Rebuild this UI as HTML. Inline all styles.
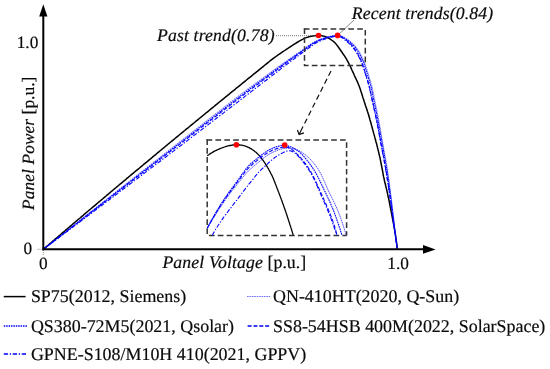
<!DOCTYPE html>
<html><head><meta charset="utf-8">
<style>
html,body{margin:0;padding:0;background:#fff;}
svg{display:block;}
text{text-rendering:geometricPrecision;font-family:"Liberation Serif","Times New Roman",serif;font-size:17.93px;fill:#0a0a0a;stroke:#0a0a0a;stroke-width:0.18px;}
.it{font-style:italic;font-size:17.7px;letter-spacing:0.15px;}
.ax{font-size:17.85px;}
.nm{font-size:17.3px;}
</style></head>
<body>
<svg width="550" height="369" viewBox="0 0 550 369">
<rect width="550" height="369" fill="#fff"/>

<!-- main curves -->
<path d="M43.3 249.3 L44.9 247.9 L46.5 246.6 L48.1 245.2 L49.7 243.8 L51.3 242.5 L52.9 241.1 L54.5 239.7 L56.1 238.4 L57.7 237.0 L59.3 235.7 L60.9 234.3 L62.4 232.9 L64.0 231.6 L65.6 230.2 L67.2 228.9 L68.8 227.5 L70.4 226.1 L72.0 224.8 L73.6 223.4 L75.2 222.0 L76.8 220.7 L78.4 219.3 L80.0 218.0 L81.6 216.6 L83.2 215.3 L84.8 213.9 L86.4 212.5 L88.0 211.2 L89.6 209.8 L91.2 208.5 L92.8 207.1 L94.4 205.8 L96.1 204.4 L97.7 203.0 L99.3 201.7 L100.9 200.3 L102.5 199.0 L104.1 197.6 L105.7 196.3 L107.3 194.9 L108.9 193.6 L110.5 192.2 L112.1 190.9 L113.7 189.5 L115.3 188.2 L116.9 186.8 L118.5 185.5 L120.1 184.1 L121.7 182.8 L123.4 181.4 L125.0 180.1 L126.6 178.7 L128.2 177.4 L129.8 176.0 L131.4 174.7 L133.0 173.4 L134.6 172.0 L136.2 170.7 L137.9 169.3 L139.5 168.0 L141.1 166.6 L142.7 165.3 L144.3 163.9 L145.9 162.6 L147.5 161.3 L149.2 159.9 L150.8 158.6 L152.4 157.2 L154.0 155.9 L155.6 154.6 L157.2 153.2 L158.8 151.9 L160.5 150.5 L162.1 149.2 L163.7 147.8 L165.3 146.5 L166.9 145.2 L168.5 143.8 L170.1 142.5 L171.8 141.1 L173.4 139.8 L175.0 138.5 L176.6 137.1 L178.2 135.8 L179.8 134.5 L181.5 133.1 L183.1 131.8 L184.7 130.5 L186.3 129.1 L188.0 127.8 L189.6 126.5 L191.2 125.1 L192.8 123.8 L194.5 122.5 L196.1 121.1 L197.7 119.8 L199.3 118.5 L201.0 117.2 L202.6 115.8 L204.2 114.5 L205.8 113.2 L207.5 111.9 L209.1 110.5 L210.7 109.2 L212.3 107.9 L214.0 106.5 L215.6 105.2 L217.2 103.9 L218.8 102.5 L220.5 101.2 L222.1 99.9 L223.7 98.6 L225.3 97.2 L227.0 95.9 L228.6 94.6 L230.2 93.2 L231.8 91.9 L233.5 90.6 L235.1 89.3 L236.7 87.9 L238.4 86.6 L240.0 85.3 L241.6 84.0 L243.2 82.7 L244.9 81.3 L246.5 80.0 L248.1 78.7 L249.8 77.4 L251.4 76.1 L253.0 74.7 L254.7 73.4 L256.3 72.1 L257.9 70.8 L259.6 69.4 L261.2 68.1 L262.8 66.8 L264.4 65.5 L266.1 64.1 L267.7 62.8 L269.3 61.5 L271.0 60.2 L272.7 58.9 L274.3 57.7 L276.0 56.5 L277.8 55.2 L279.5 54.0 L281.2 52.9 L282.9 51.7 L284.7 50.5 L286.4 49.3 L288.2 48.2 L289.9 47.0 L291.7 45.9 L293.5 44.7 L295.2 43.6 L297.0 42.5 L298.8 41.4 L300.6 40.3 L302.5 39.3 L304.3 38.4 L306.3 37.6 L308.3 37.0 L310.3 36.4 L312.4 36.0 L314.5 35.7 L316.6 35.4 L318.7 35.4 L320.8 35.6 L322.8 35.9 L324.9 36.5 L326.8 37.3 L328.7 38.2 L330.5 39.3 L332.2 40.5 L333.9 41.8 L335.4 43.3 L336.7 44.9 L338.0 46.5 L339.2 48.3 L340.4 50.0 L341.6 51.7 L342.8 53.5 L344.0 55.2 L345.1 56.9 L346.2 58.7 L347.3 60.6 L348.3 62.4 L349.2 64.3 L350.2 66.2 L351.1 68.1 L351.9 70.0 L352.8 71.9 L353.7 73.8 L354.5 75.7 L355.4 77.6 L356.3 79.5 L357.2 81.4 L358.0 83.3 L358.8 85.3 L359.6 87.2 L360.3 89.2 L360.9 91.2 L361.6 93.2 L362.2 95.2 L362.8 97.2 L363.5 99.2 L364.1 101.2 L364.8 103.2 L365.4 105.2 L366.1 107.2 L366.8 109.2 L367.4 111.2 L368.1 113.2 L368.7 115.2 L369.3 117.2 L369.8 119.2 L370.4 121.2 L371.0 123.3 L371.5 125.3 L372.1 127.3 L372.6 129.3 L373.2 131.4 L373.7 133.4 L374.3 135.4 L374.8 137.4 L375.4 139.5 L375.9 141.5 L376.5 143.5 L377.0 145.6 L377.5 147.6 L378.0 149.6 L378.5 151.7 L379.0 153.7 L379.5 155.8 L380.0 157.8 L380.4 159.9 L380.8 161.9 L381.2 164.0 L381.6 166.0 L382.0 168.1 L382.4 170.2 L382.8 172.2 L383.1 174.3 L383.5 176.4 L384.0 178.4 L384.4 180.5 L384.9 182.5 L385.4 184.5 L385.9 186.6 L386.4 188.6 L386.9 190.7 L387.3 192.7 L387.8 194.8 L388.2 196.8 L388.7 198.9 L389.1 200.9 L389.5 203.0 L389.9 205.0 L390.3 207.1 L390.7 209.2 L391.1 211.2 L391.5 213.3 L391.9 215.3 L392.3 217.4 L392.7 219.5 L393.1 221.5 L393.5 223.6 L393.9 225.7 L394.2 227.7 L394.6 229.8 L394.9 231.9 L395.3 233.9 L395.6 236.0 L395.9 238.1 L396.2 240.2 L396.5 242.2 L396.8 244.3 L397.0 246.4 L397.2 248.5" fill="none" stroke="#000" stroke-width="1.5" stroke-linejoin="round"/>
<g fill="none" stroke="#0000ff" stroke-width="1.1" stroke-linejoin="round">
<path d="M43.3 249.3 L44.8 248.1 L46.2 247.0 L47.7 245.8 L49.1 244.7 L50.6 243.5 L52.1 242.3 L53.5 241.2 L55.0 240.0 L56.5 238.9 L57.9 237.7 L59.4 236.6 L60.8 235.4 L62.3 234.2 L63.8 233.1 L65.2 231.9 L66.7 230.8 L68.1 229.6 L69.6 228.4 L71.1 227.3 L72.5 226.1 L74.0 225.0 L75.5 223.8 L76.9 222.7 L78.4 221.5 L79.8 220.3 L81.3 219.2 L82.8 218.0 L84.2 216.9 L85.7 215.7 L87.1 214.6 L88.6 213.4 L90.1 212.2 L91.5 211.1 L93.0 209.9 L94.5 208.8 L95.9 207.6 L97.4 206.5 L98.9 205.3 L100.3 204.1 L101.8 203.0 L103.2 201.8 L104.7 200.7 L106.2 199.5 L107.6 198.4 L109.1 197.2 L110.6 196.1 L112.0 194.9 L113.5 193.7 L115.0 192.6 L116.4 191.4 L117.9 190.3 L119.3 189.1 L120.8 188.0 L122.3 186.8 L123.7 185.7 L125.2 184.5 L126.7 183.4 L128.1 182.2 L129.6 181.1 L131.1 179.9 L132.5 178.7 L134.0 177.6 L135.5 176.4 L136.9 175.3 L138.4 174.1 L139.9 173.0 L141.3 171.8 L142.8 170.7 L144.3 169.5 L145.7 168.4 L147.2 167.2 L148.7 166.1 L150.1 164.9 L151.6 163.8 L153.1 162.6 L154.5 161.5 L156.0 160.3 L157.5 159.2 L158.9 158.0 L160.4 156.9 L161.9 155.7 L163.3 154.6 L164.8 153.4 L166.3 152.3 L167.8 151.1 L169.2 150.0 L170.7 148.8 L172.2 147.7 L173.6 146.5 L175.1 145.4 L176.6 144.2 L178.0 143.1 L179.5 141.9 L181.0 140.8 L182.4 139.6 L183.9 138.5 L185.4 137.3 L186.9 136.2 L188.3 135.0 L189.8 133.9 L191.3 132.7 L192.7 131.6 L194.2 130.4 L195.7 129.3 L197.1 128.1 L198.6 127.0 L200.1 125.8 L201.5 124.7 L203.0 123.5 L204.5 122.4 L205.9 121.2 L207.4 120.1 L208.9 118.9 L210.3 117.8 L211.8 116.6 L213.3 115.5 L214.7 114.4 L216.2 113.2 L217.7 112.1 L219.2 110.9 L220.6 109.8 L222.1 108.6 L223.6 107.5 L225.0 106.3 L226.5 105.2 L228.0 104.0 L229.5 102.9 L230.9 101.8 L232.4 100.6 L233.9 99.5 L235.4 98.3 L236.9 97.2 L238.3 96.1 L239.8 94.9 L241.3 93.8 L242.8 92.7 L244.3 91.6 L245.8 90.4 L247.2 89.3 L248.7 88.2 L250.2 87.1 L251.7 86.0 L253.2 84.9 L254.7 83.8 L256.2 82.7 L257.7 81.6 L259.3 80.5 L260.8 79.4 L262.3 78.3 L263.8 77.2 L265.3 76.1 L266.8 75.0 L268.3 73.9 L269.8 72.8 L271.3 71.7 L272.8 70.6 L274.4 69.5 L275.9 68.4 L277.4 67.3 L278.9 66.3 L280.4 65.2 L281.9 64.1 L283.5 63.0 L285.0 61.9 L286.5 60.9 L288.0 59.8 L289.6 58.7 L291.1 57.7 L292.6 56.6 L294.2 55.5 L295.7 54.5 L297.2 53.4 L298.8 52.4 L300.3 51.3 L301.9 50.3 L303.4 49.2 L304.9 48.1 L306.4 47.0 L307.9 45.9 L309.4 44.8 L311.0 43.8 L312.6 42.8 L314.2 41.9 L315.9 41.1 L317.6 40.3 L319.3 39.6 L321.0 38.9 L322.8 38.3 L324.6 37.7 L326.3 37.1 L328.2 36.7 L330.0 36.4 L331.8 36.1 L333.7 35.7 L335.5 35.4 L337.4 35.3 L339.2 35.5 L341.0 36.0 L342.8 36.6 L344.5 37.5 L346.1 38.4 L347.7 39.4 L349.3 40.5 L350.7 41.6 L352.1 42.8 L353.5 44.1 L354.8 45.5 L356.0 46.9 L357.1 48.4 L358.2 49.9 L359.2 51.5 L360.1 53.1 L361.0 54.8 L361.9 56.4 L362.7 58.1 L363.4 59.8 L364.2 61.5 L364.8 63.3 L365.5 65.0 L366.1 66.8 L366.7 68.6 L367.2 70.3 L367.8 72.1 L368.3 73.9 L368.8 75.7 L369.4 77.5 L369.9 79.3 L370.5 81.0 L371.0 82.8 L371.5 84.6 L372.0 86.4 L372.4 88.3 L372.8 90.1 L373.2 91.9 L373.5 93.7 L373.9 95.6 L374.2 97.4 L374.6 99.2 L374.9 101.1 L375.3 102.9 L375.7 104.7 L376.1 106.5 L376.4 108.4 L376.8 110.2 L377.2 112.0 L377.6 113.8 L377.9 115.7 L378.3 117.5 L378.6 119.3 L379.0 121.2 L379.3 123.0 L379.6 124.8 L380.0 126.7 L380.3 128.5 L380.6 130.3 L380.9 132.2 L381.2 134.0 L381.5 135.9 L381.9 137.7 L382.2 139.5 L382.5 141.4 L382.8 143.2 L383.1 145.0 L383.5 146.9 L383.8 148.7 L384.1 150.6 L384.5 152.4 L384.8 154.2 L385.1 156.1 L385.5 157.9 L385.8 159.7 L386.1 161.6 L386.4 163.4 L386.8 165.2 L387.1 167.1 L387.3 168.9 L387.6 170.8 L387.9 172.6 L388.2 174.5 L388.4 176.3 L388.7 178.1 L389.0 180.0 L389.2 181.8 L389.4 183.7 L389.7 185.5 L389.9 187.4 L390.2 189.2 L390.4 191.1 L390.6 192.9 L390.9 194.8 L391.1 196.6 L391.3 198.5 L391.6 200.3 L391.8 202.2 L392.0 204.0 L392.2 205.9 L392.5 207.7 L392.7 209.6 L392.9 211.5 L393.1 213.3 L393.3 215.2 L393.5 217.0 L393.8 218.9 L394.0 220.7 L394.2 222.6 L394.4 224.4 L394.6 226.3 L394.8 228.1 L395.0 230.0 L395.3 231.8 L395.5 233.7 L395.7 235.5 L395.9 237.4 L396.1 239.2 L396.3 241.1 L396.5 242.9 L396.8 244.8 L397.0 246.6 L397.2 248.5" stroke-width="0.7" stroke-dasharray="1.6 0.8" stroke="#3030ff"/>
<path d="M43.3 249.3 L44.8 248.2 L46.2 247.0 L47.7 245.9 L49.2 244.7 L50.6 243.6 L52.1 242.4 L53.6 241.3 L55.0 240.1 L56.5 239.0 L58.0 237.8 L59.4 236.7 L60.9 235.6 L62.4 234.4 L63.8 233.3 L65.3 232.1 L66.8 231.0 L68.2 229.8 L69.7 228.7 L71.2 227.5 L72.6 226.4 L74.1 225.2 L75.6 224.1 L77.0 223.0 L78.5 221.8 L80.0 220.7 L81.4 219.5 L82.9 218.4 L84.4 217.2 L85.8 216.1 L87.3 214.9 L88.8 213.8 L90.2 212.6 L91.7 211.5 L93.2 210.4 L94.6 209.2 L96.1 208.1 L97.6 206.9 L99.0 205.8 L100.5 204.6 L102.0 203.5 L103.4 202.3 L104.9 201.2 L106.4 200.1 L107.8 198.9 L109.3 197.8 L110.8 196.6 L112.2 195.5 L113.7 194.3 L115.2 193.2 L116.6 192.0 L118.1 190.9 L119.6 189.8 L121.1 188.6 L122.5 187.5 L124.0 186.3 L125.5 185.2 L126.9 184.0 L128.4 182.9 L129.9 181.8 L131.3 180.6 L132.8 179.5 L134.3 178.3 L135.7 177.2 L137.2 176.0 L138.7 174.9 L140.1 173.8 L141.6 172.6 L143.1 171.5 L144.6 170.3 L146.0 169.2 L147.5 168.0 L149.0 166.9 L150.4 165.8 L151.9 164.6 L153.4 163.5 L154.8 162.3 L156.3 161.2 L157.8 160.1 L159.2 158.9 L160.7 157.8 L162.2 156.6 L163.7 155.5 L165.1 154.3 L166.6 153.2 L168.1 152.1 L169.5 150.9 L171.0 149.8 L172.5 148.6 L174.0 147.5 L175.4 146.4 L176.9 145.2 L178.4 144.1 L179.8 142.9 L181.3 141.8 L182.8 140.7 L184.2 139.5 L185.7 138.4 L187.2 137.2 L188.7 136.1 L190.1 135.0 L191.6 133.8 L193.1 132.7 L194.5 131.5 L196.0 130.4 L197.5 129.2 L198.9 128.1 L200.4 127.0 L201.9 125.8 L203.3 124.7 L204.8 123.5 L206.3 122.4 L207.8 121.2 L209.2 120.1 L210.7 119.0 L212.2 117.8 L213.6 116.7 L215.1 115.5 L216.6 114.4 L218.0 113.2 L219.5 112.1 L221.0 111.0 L222.4 109.8 L223.9 108.7 L225.4 107.5 L226.9 106.4 L228.3 105.3 L229.8 104.1 L231.3 103.0 L232.8 101.9 L234.2 100.7 L235.7 99.6 L237.2 98.5 L238.7 97.3 L240.1 96.2 L241.6 95.1 L243.1 93.9 L244.6 92.8 L246.1 91.7 L247.5 90.6 L249.0 89.4 L250.5 88.3 L252.0 87.2 L253.5 86.1 L255.0 85.0 L256.5 83.9 L258.0 82.8 L259.5 81.7 L261.0 80.6 L262.5 79.5 L264.0 78.4 L265.5 77.2 L267.0 76.1 L268.5 75.0 L270.0 73.9 L271.5 72.8 L273.0 71.7 L274.5 70.6 L276.0 69.5 L277.5 68.4 L279.0 67.3 L280.5 66.3 L282.0 65.2 L283.5 64.1 L285.0 63.0 L286.5 61.9 L288.0 60.8 L289.5 59.7 L291.1 58.6 L292.6 57.6 L294.1 56.5 L295.6 55.4 L297.1 54.3 L298.7 53.3 L300.2 52.2 L301.7 51.1 L303.2 50.0 L304.7 49.0 L306.2 47.9 L307.7 46.8 L309.2 45.7 L310.8 44.6 L312.4 43.6 L314.0 42.7 L315.6 41.8 L317.3 41.0 L319.0 40.2 L320.7 39.5 L322.4 38.8 L324.2 38.2 L326.0 37.6 L327.7 37.2 L329.6 36.7 L331.4 36.4 L333.2 36.0 L335.1 35.7 L336.9 35.5 L338.7 35.6 L340.5 36.1 L342.3 36.8 L343.9 37.8 L345.6 38.8 L347.1 39.8 L348.6 40.9 L350.1 42.1 L351.4 43.3 L352.8 44.6 L354.0 46.0 L355.2 47.4 L356.3 48.9 L357.4 50.5 L358.4 52.0 L359.3 53.7 L360.2 55.3 L361.0 56.9 L361.8 58.6 L362.6 60.3 L363.3 62.0 L364.0 63.8 L364.6 65.5 L365.2 67.3 L365.8 69.1 L366.3 70.8 L366.9 72.6 L367.4 74.4 L368.0 76.2 L368.5 78.0 L369.0 79.7 L369.6 81.5 L370.1 83.3 L370.6 85.1 L371.1 86.9 L371.5 88.7 L371.9 90.5 L372.3 92.4 L372.6 94.2 L373.0 96.0 L373.4 97.8 L373.7 99.7 L374.1 101.5 L374.5 103.3 L374.9 105.1 L375.3 107.0 L375.6 108.8 L376.0 110.6 L376.4 112.4 L376.8 114.2 L377.2 116.1 L377.5 117.9 L377.9 119.7 L378.2 121.5 L378.6 123.4 L378.9 125.2 L379.2 127.0 L379.6 128.9 L379.9 130.7 L380.2 132.5 L380.5 134.4 L380.9 136.2 L381.2 138.0 L381.5 139.9 L381.8 141.7 L382.2 143.5 L382.5 145.4 L382.8 147.2 L383.2 149.0 L383.5 150.8 L383.8 152.7 L384.2 154.5 L384.5 156.3 L384.8 158.2 L385.2 160.0 L385.5 161.8 L385.8 163.7 L386.2 165.5 L386.5 167.3 L386.8 169.2 L387.1 171.0 L387.4 172.8 L387.6 174.7 L387.9 176.5 L388.2 178.4 L388.4 180.2 L388.7 182.0 L389.0 183.9 L389.2 185.7 L389.5 187.6 L389.7 189.4 L390.0 191.3 L390.2 193.1 L390.5 195.0 L390.7 196.8 L390.9 198.6 L391.2 200.5 L391.4 202.3 L391.6 204.2 L391.9 206.0 L392.1 207.9 L392.3 209.7 L392.6 211.6 L392.8 213.4 L393.0 215.3 L393.3 217.1 L393.5 219.0 L393.7 220.8 L394.0 222.6 L394.2 224.5 L394.4 226.3 L394.6 228.2 L394.9 230.0 L395.1 231.9 L395.3 233.7 L395.6 235.6 L395.8 237.4 L396.0 239.3 L396.3 241.1 L396.5 243.0 L396.7 244.8 L397.0 246.7 L397.2 248.5" stroke-dasharray="1.7 0.7"/>
<path d="M43.3 249.3 L44.8 248.2 L46.2 247.0 L47.7 245.9 L49.2 244.8 L50.7 243.6 L52.1 242.5 L53.6 241.4 L55.1 240.2 L56.5 239.1 L58.0 238.0 L59.5 236.8 L60.9 235.7 L62.4 234.6 L63.9 233.4 L65.4 232.3 L66.8 231.2 L68.3 230.0 L69.8 228.9 L71.2 227.8 L72.7 226.6 L74.2 225.5 L75.7 224.4 L77.1 223.2 L78.6 222.1 L80.1 221.0 L81.5 219.8 L83.0 218.7 L84.5 217.6 L85.9 216.4 L87.4 215.3 L88.9 214.2 L90.4 213.0 L91.8 211.9 L93.3 210.8 L94.8 209.6 L96.2 208.5 L97.7 207.4 L99.2 206.2 L100.6 205.1 L102.1 204.0 L103.6 202.8 L105.1 201.7 L106.5 200.6 L108.0 199.4 L109.5 198.3 L110.9 197.2 L112.4 196.0 L113.9 194.9 L115.3 193.8 L116.8 192.6 L118.3 191.5 L119.8 190.4 L121.2 189.2 L122.7 188.1 L124.2 187.0 L125.6 185.8 L127.1 184.7 L128.6 183.6 L130.0 182.4 L131.5 181.3 L133.0 180.2 L134.5 179.0 L135.9 177.9 L137.4 176.8 L138.9 175.6 L140.3 174.5 L141.8 173.4 L143.3 172.2 L144.7 171.1 L146.2 170.0 L147.7 168.8 L149.2 167.7 L150.6 166.6 L152.1 165.4 L153.6 164.3 L155.0 163.2 L156.5 162.0 L158.0 160.9 L159.5 159.8 L160.9 158.6 L162.4 157.5 L163.9 156.4 L165.3 155.2 L166.8 154.1 L168.3 153.0 L169.7 151.8 L171.2 150.7 L172.7 149.6 L174.2 148.4 L175.6 147.3 L177.1 146.2 L178.6 145.1 L180.0 143.9 L181.5 142.8 L183.0 141.7 L184.5 140.5 L185.9 139.4 L187.4 138.3 L188.9 137.1 L190.3 136.0 L191.8 134.9 L193.3 133.7 L194.7 132.6 L196.2 131.4 L197.7 130.3 L199.2 129.2 L200.6 128.0 L202.1 126.9 L203.6 125.8 L205.0 124.6 L206.5 123.5 L208.0 122.4 L209.4 121.2 L210.9 120.1 L212.4 119.0 L213.8 117.8 L215.3 116.7 L216.8 115.5 L218.2 114.4 L219.7 113.3 L221.2 112.1 L222.6 111.0 L224.1 109.9 L225.6 108.7 L227.1 107.6 L228.5 106.5 L230.0 105.3 L231.5 104.2 L232.9 103.1 L234.4 101.9 L235.9 100.8 L237.4 99.7 L238.8 98.5 L240.3 97.4 L241.8 96.3 L243.3 95.2 L244.7 94.0 L246.2 92.9 L247.7 91.8 L249.2 90.7 L250.6 89.6 L252.1 88.4 L253.6 87.3 L255.1 86.2 L256.6 85.1 L258.1 84.0 L259.6 82.9 L261.0 81.8 L262.5 80.6 L264.0 79.5 L265.5 78.4 L267.0 77.3 L268.5 76.2 L270.0 75.1 L271.5 74.0 L272.9 72.9 L274.4 71.8 L275.9 70.7 L277.4 69.6 L278.9 68.4 L280.4 67.3 L281.9 66.2 L283.4 65.1 L284.9 64.0 L286.4 62.9 L287.9 61.8 L289.4 60.7 L290.9 59.6 L292.4 58.6 L293.9 57.5 L295.4 56.4 L296.9 55.3 L298.4 54.2 L299.9 53.1 L301.4 52.0 L302.9 51.0 L304.4 49.9 L305.9 48.8 L307.4 47.7 L308.9 46.6 L310.4 45.5 L312.0 44.5 L313.5 43.5 L315.1 42.5 L316.8 41.7 L318.4 40.9 L320.2 40.1 L321.9 39.5 L323.6 38.8 L325.4 38.2 L327.2 37.6 L328.9 37.2 L330.7 36.8 L332.6 36.4 L334.4 36.0 L336.3 35.7 L338.1 35.7 L339.9 36.1 L341.6 36.9 L343.2 37.9 L344.8 39.0 L346.3 40.1 L347.7 41.3 L349.1 42.5 L350.4 43.8 L351.7 45.2 L352.9 46.6 L354.1 48.0 L355.1 49.6 L356.1 51.1 L357.1 52.7 L358.0 54.3 L358.8 56.0 L359.7 57.7 L360.5 59.3 L361.2 61.0 L361.9 62.7 L362.6 64.5 L363.2 66.2 L363.8 68.0 L364.4 69.8 L364.9 71.5 L365.5 73.3 L366.0 75.1 L366.5 76.9 L367.1 78.6 L367.6 80.4 L368.2 82.2 L368.7 84.0 L369.2 85.8 L369.6 87.6 L370.0 89.4 L370.5 91.2 L370.8 93.0 L371.2 94.8 L371.6 96.6 L372.0 98.4 L372.4 100.3 L372.8 102.1 L373.2 103.9 L373.6 105.7 L374.0 107.5 L374.4 109.3 L374.8 111.1 L375.2 112.9 L375.6 114.8 L376.0 116.6 L376.3 118.4 L376.7 120.2 L377.1 122.0 L377.4 123.9 L377.8 125.7 L378.1 127.5 L378.5 129.3 L378.8 131.2 L379.1 133.0 L379.5 134.8 L379.8 136.6 L380.1 138.5 L380.5 140.3 L380.8 142.1 L381.1 143.9 L381.5 145.8 L381.8 147.6 L382.1 149.4 L382.5 151.2 L382.8 153.1 L383.2 154.9 L383.5 156.7 L383.9 158.5 L384.2 160.4 L384.6 162.2 L384.9 164.0 L385.2 165.8 L385.5 167.7 L385.9 169.5 L386.2 171.3 L386.5 173.2 L386.8 175.0 L387.1 176.8 L387.4 178.6 L387.7 180.5 L387.9 182.3 L388.2 184.2 L388.5 186.0 L388.8 187.8 L389.0 189.7 L389.3 191.5 L389.6 193.3 L389.8 195.2 L390.1 197.0 L390.3 198.9 L390.6 200.7 L390.8 202.5 L391.1 204.4 L391.3 206.2 L391.6 208.0 L391.8 209.9 L392.1 211.7 L392.3 213.6 L392.6 215.4 L392.8 217.2 L393.1 219.1 L393.3 220.9 L393.6 222.8 L393.8 224.6 L394.1 226.4 L394.3 228.3 L394.6 230.1 L394.8 232.0 L395.1 233.8 L395.4 235.6 L395.6 237.5 L395.9 239.3 L396.1 241.2 L396.4 243.0 L396.7 244.8 L396.9 246.7 L397.2 248.5" stroke-dasharray="4 1.85"/>
<path d="M43.3 249.3 L44.8 248.2 L46.3 247.1 L47.7 246.0 L49.2 244.9 L50.7 243.7 L52.2 242.6 L53.7 241.5 L55.2 240.4 L56.6 239.3 L58.1 238.2 L59.6 237.1 L61.1 236.0 L62.6 234.9 L64.1 233.7 L65.5 232.6 L67.0 231.5 L68.5 230.4 L70.0 229.3 L71.5 228.2 L72.9 227.1 L74.4 225.9 L75.9 224.8 L77.4 223.7 L78.9 222.6 L80.4 221.5 L81.8 220.4 L83.3 219.3 L84.8 218.2 L86.3 217.0 L87.8 215.9 L89.2 214.8 L90.7 213.7 L92.2 212.6 L93.7 211.5 L95.2 210.3 L96.6 209.2 L98.1 208.1 L99.6 207.0 L101.1 205.9 L102.6 204.8 L104.0 203.7 L105.5 202.5 L107.0 201.4 L108.5 200.3 L110.0 199.2 L111.4 198.1 L112.9 197.0 L114.4 195.8 L115.9 194.7 L117.3 193.6 L118.8 192.5 L120.3 191.4 L121.8 190.3 L123.3 189.1 L124.7 188.0 L126.2 186.9 L127.7 185.8 L129.2 184.7 L130.6 183.5 L132.1 182.4 L133.6 181.3 L135.1 180.2 L136.6 179.1 L138.0 178.0 L139.5 176.8 L141.0 175.7 L142.5 174.6 L143.9 173.5 L145.4 172.4 L146.9 171.2 L148.4 170.1 L149.8 169.0 L151.3 167.9 L152.8 166.8 L154.3 165.6 L155.8 164.5 L157.2 163.4 L158.7 162.3 L160.2 161.2 L161.7 160.0 L163.1 158.9 L164.6 157.8 L166.1 156.7 L167.6 155.6 L169.0 154.4 L170.5 153.3 L172.0 152.2 L173.5 151.1 L174.9 150.0 L176.4 148.8 L177.9 147.7 L179.4 146.6 L180.9 145.5 L182.3 144.4 L183.8 143.2 L185.3 142.1 L186.8 141.0 L188.2 139.9 L189.7 138.8 L191.2 137.6 L192.7 136.5 L194.1 135.4 L195.6 134.3 L197.1 133.1 L198.5 132.0 L200.0 130.9 L201.5 129.8 L203.0 128.6 L204.4 127.5 L205.9 126.4 L207.4 125.3 L208.8 124.1 L210.3 123.0 L211.8 121.9 L213.3 120.7 L214.7 119.6 L216.2 118.5 L217.7 117.4 L219.1 116.2 L220.6 115.1 L222.1 114.0 L223.6 112.9 L225.0 111.7 L226.5 110.6 L228.0 109.5 L229.4 108.3 L230.9 107.2 L232.4 106.1 L233.8 105.0 L235.3 103.8 L236.8 102.7 L238.3 101.6 L239.7 100.4 L241.2 99.3 L242.7 98.2 L244.1 97.1 L245.6 95.9 L247.1 94.8 L248.5 93.7 L250.0 92.6 L251.5 91.4 L253.0 90.3 L254.4 89.2 L255.9 88.0 L257.4 86.9 L258.8 85.8 L260.3 84.7 L261.8 83.5 L263.3 82.4 L264.7 81.3 L266.2 80.2 L267.7 79.0 L269.1 77.9 L270.6 76.8 L272.1 75.6 L273.5 74.5 L275.0 73.4 L276.5 72.3 L278.0 71.1 L279.4 70.0 L280.9 68.9 L282.4 67.8 L283.9 66.6 L285.3 65.5 L286.8 64.4 L288.3 63.3 L289.8 62.1 L291.2 61.0 L292.7 59.9 L294.2 58.8 L295.6 57.7 L297.1 56.5 L298.6 55.4 L300.1 54.3 L301.6 53.2 L303.1 52.1 L304.6 51.0 L306.1 50.0 L307.6 48.9 L309.1 47.8 L310.6 46.7 L312.1 45.6 L313.6 44.5 L315.1 43.5 L316.7 42.6 L318.4 41.7 L320.1 41.0 L321.8 40.3 L323.5 39.6 L325.3 38.9 L327.0 38.3 L328.8 37.8 L330.6 37.3 L332.4 36.9 L334.2 36.4 L336.0 36.0 L337.8 36.0 L339.6 36.5 L341.3 37.3 L342.9 38.4 L344.4 39.6 L345.9 40.8 L347.3 41.9 L348.7 43.2 L350.0 44.4 L351.3 45.7 L352.5 47.1 L353.7 48.6 L354.8 50.0 L355.9 51.6 L356.9 53.1 L357.8 54.7 L358.7 56.4 L359.5 58.0 L360.3 59.7 L361.1 61.4 L361.8 63.1 L362.4 64.8 L363.1 66.6 L363.6 68.3 L364.2 70.1 L364.8 71.9 L365.3 73.6 L365.8 75.4 L366.4 77.2 L366.9 79.0 L367.4 80.7 L368.0 82.5 L368.5 84.3 L369.0 86.1 L369.4 87.9 L369.8 89.7 L370.2 91.5 L370.6 93.3 L371.0 95.1 L371.4 96.9 L371.8 98.7 L372.2 100.6 L372.6 102.4 L373.0 104.2 L373.4 106.0 L373.8 107.8 L374.2 109.6 L374.6 111.4 L375.0 113.2 L375.4 115.0 L375.8 116.8 L376.2 118.7 L376.5 120.5 L376.9 122.3 L377.3 124.1 L377.6 125.9 L378.0 127.7 L378.3 129.6 L378.6 131.4 L379.0 133.2 L379.3 135.0 L379.6 136.9 L380.0 138.7 L380.3 140.5 L380.6 142.3 L381.0 144.2 L381.3 146.0 L381.6 147.8 L382.0 149.6 L382.3 151.4 L382.7 153.3 L383.0 155.1 L383.4 156.9 L383.7 158.7 L384.1 160.5 L384.4 162.4 L384.7 164.2 L385.1 166.0 L385.4 167.8 L385.7 169.7 L386.0 171.5 L386.3 173.3 L386.6 175.1 L386.9 177.0 L387.2 178.8 L387.5 180.6 L387.8 182.5 L388.1 184.3 L388.4 186.1 L388.6 188.0 L388.9 189.8 L389.2 191.6 L389.4 193.5 L389.7 195.3 L390.0 197.1 L390.2 199.0 L390.5 200.8 L390.7 202.6 L391.0 204.5 L391.2 206.3 L391.5 208.1 L391.8 210.0 L392.0 211.8 L392.3 213.6 L392.5 215.5 L392.8 217.3 L393.0 219.1 L393.3 221.0 L393.5 222.8 L393.8 224.7 L394.0 226.5 L394.3 228.3 L394.5 230.2 L394.8 232.0 L395.1 233.8 L395.3 235.7 L395.6 237.5 L395.9 239.3 L396.1 241.2 L396.4 243.0 L396.7 244.8 L396.9 246.7 L397.2 248.5" stroke-dasharray="4.3 1.7 1.3 1.65"/>
</g>

<!-- axes -->
<g stroke="#000" stroke-width="2" fill="none">
<path d="M43.3 250.3 V14"/>
<path d="M42.3 249.3 H425"/>
</g>
<path d="M43.3 4.2 L47.4 16.4 H39.2 Z" fill="#000"/>
<path d="M435.6 249.4 L423 253.7 V245.1 Z" fill="#000"/>
<g stroke="#666" stroke-width="0.8" stroke-dasharray="1 1">
<path d="M37.5 249.3 H43"/>
<path d="M43.3 250 V256"/>
</g>

<!-- dashed boxes -->
<g fill="none" stroke="#333" stroke-width="1.5" stroke-dasharray="5.7 3.2">
<path d="M303.8 29.1 H365.3 V65.6"/>
<path d="M304.5 28.4 V65.6 H365.3"/>
<path d="M206.5 139.9 H346.6 V235.4"/>
<path d="M207.2 139.2 V235.4 H346.6"/>
</g>
<path d="M299.2 134.2 L331.6 69.7" fill="none" stroke="#111" stroke-width="1.2" stroke-dasharray="8.5 3.5 5.4 3.5 5.4 3.5 5.4 3.5 5.4 3.5 5.4 3.5 5.4 3.5 5.4 3.5"/>
<path d="M297.4 130 L299.1 134.4 L304 132.9" fill="none" stroke="#111" stroke-width="1.2"/>

<!-- leader lines -->
<path d="M276 35.7 H316" stroke="#555" stroke-width="0.8" stroke-dasharray="1 1" fill="none"/>
<path d="M337.6 35.5 L354 20" stroke="#555" stroke-width="0.7" fill="none"/>

<!-- inset curves -->
<path d="M207.2 155.8 L208.0 155.2 L208.8 154.7 L209.6 154.1 L210.4 153.6 L211.2 153.1 L212.1 152.6 L212.9 152.1 L213.7 151.6 L214.6 151.1 L215.5 150.7 L216.3 150.3 L217.2 149.9 L218.1 149.5 L219.0 149.1 L219.9 148.7 L220.8 148.3 L221.7 148.0 L222.6 147.6 L223.5 147.3 L224.5 147.0 L225.4 146.7 L226.3 146.4 L227.2 146.1 L228.2 145.9 L229.1 145.7 L230.1 145.5 L231.0 145.3 L232.0 145.1 L233.0 145.0 L233.9 144.9 L234.9 144.8 L235.9 144.8 L236.9 144.8 L237.8 144.8 L238.8 144.9 L239.8 145.0 L240.7 145.1 L241.7 145.2 L242.7 145.4 L243.6 145.7 L244.6 145.9 L245.5 146.2 L246.4 146.5 L247.3 146.9 L248.2 147.3 L249.1 147.7 L249.9 148.2 L250.8 148.6 L251.6 149.1 L252.5 149.7 L253.3 150.2 L254.1 150.8 L254.8 151.4 L255.6 152.0 L256.3 152.6 L257.0 153.3 L257.7 153.9 L258.4 154.6 L259.1 155.4 L259.7 156.1 L260.4 156.8 L261.0 157.6 L261.6 158.4 L262.1 159.1 L262.7 159.9 L263.3 160.7 L263.8 161.5 L264.4 162.3 L264.9 163.1 L265.4 164.0 L266.0 164.8 L266.5 165.6 L267.0 166.4 L267.5 167.3 L268.0 168.1 L268.5 168.9 L268.9 169.8 L269.4 170.6 L269.9 171.5 L270.3 172.4 L270.8 173.2 L271.2 174.1 L271.7 175.0 L272.1 175.8 L272.5 176.7 L272.9 177.6 L273.3 178.5 L273.7 179.4 L274.0 180.3 L274.4 181.2 L274.7 182.1 L275.1 183.0 L275.4 183.9 L275.8 184.8 L276.1 185.7 L276.5 186.6 L276.8 187.5 L277.2 188.4 L277.5 189.3 L277.9 190.3 L278.2 191.2 L278.6 192.1 L278.9 193.0 L279.3 193.9 L279.6 194.8 L280.0 195.7 L280.3 196.6 L280.6 197.5 L281.0 198.4 L281.3 199.3 L281.7 200.3 L282.0 201.2 L282.3 202.1 L282.6 203.0 L283.0 203.9 L283.3 204.8 L283.6 205.7 L284.0 206.7 L284.3 207.6 L284.6 208.5 L284.9 209.4 L285.2 210.3 L285.6 211.2 L285.9 212.2 L286.2 213.1 L286.5 214.0 L286.8 214.9 L287.1 215.8 L287.4 216.8 L287.7 217.7 L288.0 218.6 L288.3 219.5 L288.6 220.5 L288.9 221.4 L289.2 222.3 L289.5 223.2 L289.8 224.2 L290.1 225.1 L290.4 226.0 L290.7 226.9 L291.0 227.9 L291.3 228.8 L291.6 229.7 L291.9 230.7 L292.2 231.6 L292.4 232.5 L292.7 233.4 L293.0 234.4 L293.3 235.3" fill="none" stroke="#000" stroke-width="1.3"/>
<g fill="none" stroke="#0000ff" stroke-width="1.1" stroke-linejoin="round">
<path d="M207.3 228.3 L207.8 227.4 L208.4 226.5 L208.9 225.6 L209.4 224.7 L209.9 223.8 L210.5 222.9 L211.0 222.1 L211.5 221.2 L212.1 220.3 L212.6 219.4 L213.2 218.5 L213.7 217.6 L214.3 216.7 L214.8 215.9 L215.4 215.0 L215.9 214.1 L216.5 213.2 L217.0 212.3 L217.6 211.5 L218.2 210.6 L218.7 209.7 L219.3 208.8 L219.9 208.0 L220.4 207.1 L221.0 206.2 L221.6 205.4 L222.2 204.5 L222.8 203.7 L223.4 202.8 L223.9 202.0 L224.5 201.1 L225.1 200.3 L225.7 199.4 L226.3 198.6 L226.9 197.7 L227.6 196.9 L228.2 196.0 L228.8 195.2 L229.4 194.4 L230.0 193.5 L230.7 192.7 L231.3 191.9 L231.9 191.1 L232.6 190.2 L233.2 189.4 L233.8 188.6 L234.5 187.8 L235.1 187.0 L235.8 186.2 L236.4 185.3 L237.0 184.5 L237.7 183.7 L238.3 182.9 L239.0 182.1 L239.6 181.2 L240.3 180.4 L240.9 179.6 L241.6 178.8 L242.2 178.0 L242.9 177.2 L243.6 176.4 L244.2 175.6 L244.9 174.8 L245.6 174.0 L246.3 173.3 L247.0 172.5 L247.7 171.8 L248.4 171.0 L249.2 170.3 L249.9 169.6 L250.7 168.9 L251.5 168.2 L252.2 167.5 L253.0 166.8 L253.8 166.1 L254.6 165.5 L255.4 164.8 L256.2 164.1 L257.0 163.5 L257.8 162.8 L258.6 162.2 L259.4 161.5 L260.2 160.8 L261.0 160.1 L261.8 159.5 L262.6 158.8 L263.4 158.2 L264.3 157.6 L265.1 156.9 L265.9 156.3 L266.8 155.7 L267.7 155.2 L268.5 154.6 L269.4 154.1 L270.3 153.6 L271.3 153.1 L272.2 152.6 L273.1 152.1 L274.1 151.7 L275.0 151.3 L276.0 150.9 L276.9 150.5 L277.9 150.1 L278.9 149.8 L279.9 149.4 L280.9 149.1 L281.9 148.9 L282.9 148.7 L283.9 148.5 L284.9 148.3 L286.0 148.2 L287.0 148.2 L288.1 148.2 L289.1 148.2 L290.1 148.3 L291.2 148.4 L292.2 148.6 L293.2 148.7 L294.3 148.9 L295.3 149.1 L296.3 149.4 L297.2 149.8 L298.2 150.2 L299.1 150.7 L300.0 151.2 L300.9 151.7 L301.8 152.3 L302.7 152.8 L303.5 153.5 L304.4 154.1 L305.2 154.7 L306.0 155.4 L306.8 156.1 L307.6 156.8 L308.3 157.5 L309.1 158.2 L309.8 158.9 L310.5 159.7 L311.3 160.4 L312.0 161.2 L312.7 162.0 L313.3 162.7 L314.0 163.5 L314.7 164.3 L315.3 165.2 L316.0 166.0 L316.6 166.8 L317.2 167.7 L317.8 168.5 L318.3 169.4 L318.9 170.3 L319.4 171.2 L319.9 172.1 L320.4 173.0 L320.9 173.9 L321.4 174.8 L321.8 175.8 L322.3 176.7 L322.7 177.6 L323.1 178.6 L323.5 179.5 L323.9 180.5 L324.4 181.5 L324.8 182.4 L325.2 183.4 L325.6 184.3 L326.0 185.3 L326.4 186.3 L326.8 187.2 L327.2 188.2 L327.7 189.1 L328.1 190.1 L328.5 191.0 L329.0 191.9 L329.4 192.9 L329.9 193.8 L330.3 194.7 L330.8 195.7 L331.3 196.6 L331.7 197.5 L332.2 198.5 L332.6 199.4 L333.1 200.3 L333.6 201.3 L334.0 202.2 L334.5 203.1 L334.9 204.1 L335.3 205.0 L335.8 206.0 L336.2 206.9 L336.6 207.8 L337.0 208.8 L337.5 209.8 L337.9 210.7 L338.2 211.7 L338.6 212.6 L339.0 213.6 L339.4 214.6 L339.8 215.5 L340.1 216.5 L340.5 217.5 L340.8 218.5 L341.2 219.5 L341.5 220.4 L341.8 221.4 L342.2 222.4 L342.5 223.4 L342.8 224.4 L343.1 225.4 L343.5 226.4 L343.8 227.4 L344.1 228.4 L344.4 229.3 L344.7 230.3 L345.0 231.3 L345.3 232.3 L345.6 233.3 L345.9 234.3 L346.2 235.3" stroke-width="0.9" stroke-dasharray="1.6 0.7" stroke="#2a2aff"/>
<path d="M207.3 227.9 L207.8 227.0 L208.3 226.1 L208.8 225.2 L209.3 224.3 L209.8 223.3 L210.3 222.4 L210.8 221.5 L211.3 220.6 L211.8 219.7 L212.3 218.8 L212.8 217.9 L213.3 217.0 L213.8 216.1 L214.4 215.2 L214.9 214.3 L215.4 213.4 L215.9 212.5 L216.5 211.6 L217.0 210.7 L217.5 209.8 L218.1 208.9 L218.6 208.0 L219.2 207.1 L219.7 206.3 L220.3 205.4 L220.8 204.5 L221.4 203.6 L221.9 202.7 L222.5 201.9 L223.1 201.0 L223.6 200.1 L224.2 199.3 L224.8 198.4 L225.4 197.5 L225.9 196.7 L226.5 195.8 L227.1 195.0 L227.7 194.1 L228.3 193.3 L228.9 192.4 L229.5 191.6 L230.1 190.7 L230.8 189.9 L231.4 189.1 L232.0 188.2 L232.6 187.4 L233.2 186.6 L233.8 185.7 L234.5 184.9 L235.1 184.0 L235.7 183.2 L236.3 182.4 L236.9 181.5 L237.5 180.7 L238.1 179.8 L238.7 179.0 L239.3 178.1 L239.9 177.3 L240.5 176.4 L241.1 175.5 L241.7 174.7 L242.3 173.8 L242.9 173.0 L243.5 172.1 L244.2 171.3 L244.8 170.5 L245.4 169.7 L246.1 168.8 L246.7 168.0 L247.4 167.3 L248.1 166.5 L248.8 165.7 L249.5 165.0 L250.3 164.2 L251.0 163.5 L251.8 162.8 L252.6 162.2 L253.4 161.5 L254.2 160.8 L255.0 160.2 L255.8 159.5 L256.6 158.9 L257.4 158.2 L258.2 157.6 L259.1 156.9 L259.9 156.3 L260.7 155.6 L261.5 155.0 L262.3 154.4 L263.2 153.8 L264.0 153.1 L264.9 152.5 L265.7 152.0 L266.6 151.4 L267.5 150.8 L268.4 150.3 L269.3 149.8 L270.2 149.3 L271.1 148.8 L272.1 148.4 L273.0 148.0 L274.0 147.6 L275.0 147.2 L276.0 146.9 L276.9 146.6 L278.0 146.3 L279.0 146.1 L280.0 145.9 L281.0 145.7 L282.1 145.6 L283.1 145.5 L284.1 145.5 L285.2 145.5 L286.2 145.6 L287.2 145.8 L288.2 146.1 L289.2 146.4 L290.2 146.7 L291.2 147.1 L292.2 147.5 L293.1 148.0 L294.0 148.5 L294.9 149.0 L295.8 149.5 L296.7 150.1 L297.6 150.7 L298.4 151.3 L299.2 151.9 L300.0 152.6 L300.8 153.3 L301.5 154.0 L302.3 154.7 L303.0 155.5 L303.7 156.3 L304.4 157.0 L305.1 157.8 L305.7 158.6 L306.4 159.4 L307.0 160.3 L307.7 161.1 L308.3 161.9 L308.9 162.7 L309.6 163.6 L310.2 164.4 L310.8 165.2 L311.4 166.1 L312.0 166.9 L312.6 167.8 L313.1 168.7 L313.7 169.5 L314.3 170.4 L314.8 171.3 L315.3 172.2 L315.8 173.1 L316.4 174.0 L316.9 174.9 L317.3 175.8 L317.8 176.8 L318.3 177.7 L318.8 178.6 L319.2 179.5 L319.7 180.5 L320.1 181.4 L320.6 182.3 L321.0 183.3 L321.5 184.2 L321.9 185.2 L322.4 186.1 L322.8 187.1 L323.3 188.0 L323.7 188.9 L324.2 189.9 L324.6 190.8 L325.1 191.8 L325.5 192.7 L326.0 193.6 L326.4 194.6 L326.9 195.5 L327.3 196.5 L327.7 197.4 L328.2 198.3 L328.6 199.3 L329.1 200.2 L329.5 201.2 L329.9 202.1 L330.4 203.1 L330.8 204.0 L331.2 205.0 L331.6 205.9 L332.0 206.9 L332.4 207.8 L332.8 208.8 L333.2 209.7 L333.6 210.7 L334.0 211.7 L334.3 212.6 L334.7 213.6 L335.1 214.6 L335.4 215.6 L335.8 216.5 L336.1 217.5 L336.5 218.5 L336.8 219.5 L337.1 220.5 L337.5 221.5 L337.8 222.4 L338.1 223.4 L338.5 224.4 L338.8 225.4 L339.1 226.4 L339.4 227.4 L339.8 228.4 L340.1 229.4 L340.4 230.4 L340.7 231.3 L341.0 232.3 L341.4 233.3 L341.7 234.3 L342.0 235.3" stroke-dasharray="1.7 0.7"/>
<path d="M207.3 228.1 L207.8 227.2 L208.3 226.3 L208.8 225.4 L209.3 224.6 L209.7 223.7 L210.2 222.8 L210.7 221.9 L211.2 221.0 L211.7 220.2 L212.3 219.3 L212.8 218.4 L213.3 217.5 L213.8 216.7 L214.3 215.8 L214.8 214.9 L215.3 214.1 L215.9 213.2 L216.4 212.3 L216.9 211.5 L217.4 210.6 L218.0 209.7 L218.5 208.9 L219.0 208.0 L219.6 207.2 L220.1 206.3 L220.7 205.5 L221.2 204.6 L221.8 203.8 L222.3 202.9 L222.9 202.1 L223.5 201.2 L224.0 200.4 L224.6 199.6 L225.2 198.7 L225.7 197.9 L226.3 197.1 L226.9 196.2 L227.5 195.4 L228.1 194.6 L228.7 193.8 L229.3 193.0 L229.9 192.1 L230.5 191.3 L231.1 190.5 L231.7 189.7 L232.3 188.9 L232.9 188.1 L233.5 187.3 L234.1 186.5 L234.7 185.7 L235.3 184.9 L235.9 184.1 L236.5 183.3 L237.1 182.4 L237.8 181.6 L238.4 180.8 L239.0 180.0 L239.6 179.2 L240.2 178.4 L240.8 177.6 L241.4 176.7 L242.0 175.9 L242.6 175.1 L243.2 174.3 L243.9 173.5 L244.5 172.7 L245.1 172.0 L245.8 171.2 L246.4 170.4 L247.1 169.6 L247.8 168.9 L248.5 168.2 L249.2 167.4 L249.9 166.7 L250.6 166.0 L251.3 165.3 L252.1 164.7 L252.8 164.0 L253.6 163.3 L254.4 162.7 L255.2 162.0 L256.0 161.4 L256.7 160.8 L257.5 160.1 L258.3 159.5 L259.1 158.9 L259.9 158.2 L260.7 157.6 L261.5 157.0 L262.3 156.4 L263.1 155.8 L263.9 155.2 L264.8 154.6 L265.6 154.0 L266.5 153.5 L267.3 152.9 L268.2 152.4 L269.1 151.9 L270.0 151.4 L270.9 151.0 L271.8 150.5 L272.7 150.1 L273.6 149.7 L274.6 149.4 L275.5 149.0 L276.5 148.7 L277.5 148.4 L278.4 148.2 L279.4 147.9 L280.4 147.7 L281.4 147.5 L282.4 147.3 L283.4 147.2 L284.4 147.1 L285.4 147.1 L286.4 147.1 L287.4 147.3 L288.4 147.6 L289.4 148.0 L290.3 148.5 L291.1 149.0 L292.0 149.6 L292.8 150.2 L293.5 150.9 L294.3 151.5 L295.0 152.2 L295.8 152.9 L296.5 153.6 L297.2 154.3 L298.0 155.0 L298.7 155.7 L299.4 156.5 L300.1 157.2 L300.8 157.9 L301.4 158.7 L302.1 159.5 L302.7 160.2 L303.4 161.0 L304.0 161.8 L304.6 162.6 L305.2 163.4 L305.8 164.2 L306.4 165.1 L307.0 165.9 L307.6 166.7 L308.1 167.6 L308.7 168.4 L309.2 169.3 L309.8 170.1 L310.3 171.0 L310.8 171.9 L311.3 172.7 L311.8 173.6 L312.3 174.5 L312.8 175.4 L313.3 176.3 L313.7 177.2 L314.2 178.1 L314.6 179.0 L315.1 179.9 L315.5 180.8 L315.9 181.7 L316.3 182.7 L316.8 183.6 L317.2 184.5 L317.6 185.4 L318.0 186.3 L318.4 187.3 L318.8 188.2 L319.3 189.1 L319.7 190.0 L320.1 191.0 L320.5 191.9 L320.9 192.8 L321.3 193.7 L321.8 194.6 L322.2 195.6 L322.6 196.5 L323.0 197.4 L323.4 198.3 L323.8 199.3 L324.2 200.2 L324.7 201.1 L325.1 202.0 L325.5 203.0 L325.9 203.9 L326.3 204.8 L326.7 205.7 L327.1 206.7 L327.5 207.6 L327.9 208.5 L328.3 209.5 L328.7 210.4 L329.0 211.3 L329.4 212.3 L329.8 213.2 L330.2 214.1 L330.6 215.1 L330.9 216.0 L331.3 217.0 L331.6 217.9 L332.0 218.9 L332.3 219.8 L332.7 220.8 L333.0 221.7 L333.4 222.7 L333.7 223.6 L334.0 224.6 L334.3 225.5 L334.6 226.5 L334.9 227.5 L335.2 228.4 L335.5 229.4 L335.8 230.4 L336.0 231.4 L336.3 232.3 L336.5 233.3 L336.8 234.3 L337.0 235.3" stroke-dasharray="4 1.85"/>
<path d="M212.3 235.3 L212.8 234.4 L213.2 233.6 L213.7 232.7 L214.2 231.9 L214.7 231.0 L215.2 230.2 L215.7 229.3 L216.2 228.5 L216.7 227.6 L217.3 226.8 L217.8 226.0 L218.3 225.1 L218.9 224.3 L219.4 223.5 L219.9 222.7 L220.5 221.9 L221.1 221.0 L221.6 220.2 L222.2 219.4 L222.7 218.6 L223.3 217.8 L223.9 217.0 L224.5 216.2 L225.0 215.4 L225.6 214.6 L226.2 213.8 L226.8 213.1 L227.4 212.3 L228.0 211.5 L228.6 210.7 L229.2 209.9 L229.8 209.1 L230.4 208.4 L231.0 207.6 L231.6 206.8 L232.2 206.0 L232.8 205.2 L233.4 204.5 L234.0 203.7 L234.6 202.9 L235.2 202.1 L235.8 201.4 L236.4 200.6 L237.0 199.8 L237.6 199.0 L238.2 198.2 L238.8 197.4 L239.4 196.7 L240.0 195.9 L240.6 195.1 L241.2 194.3 L241.8 193.5 L242.4 192.7 L242.9 191.9 L243.5 191.2 L244.1 190.4 L244.7 189.6 L245.3 188.8 L245.9 188.0 L246.5 187.2 L247.1 186.5 L247.7 185.7 L248.3 184.9 L248.9 184.1 L249.5 183.4 L250.2 182.6 L250.8 181.8 L251.4 181.1 L252.0 180.3 L252.6 179.5 L253.3 178.8 L253.9 178.0 L254.5 177.2 L255.1 176.5 L255.7 175.7 L256.4 174.9 L257.0 174.2 L257.6 173.4 L258.3 172.7 L258.9 172.0 L259.6 171.2 L260.3 170.5 L261.0 169.8 L261.7 169.1 L262.4 168.5 L263.1 167.8 L263.8 167.1 L264.6 166.5 L265.3 165.8 L266.0 165.1 L266.8 164.5 L267.5 163.8 L268.2 163.2 L268.9 162.5 L269.7 161.8 L270.4 161.2 L271.1 160.5 L271.9 159.9 L272.6 159.3 L273.4 158.6 L274.2 158.0 L275.0 157.4 L275.8 156.9 L276.6 156.3 L277.4 155.8 L278.3 155.3 L279.1 154.8 L280.0 154.3 L280.8 153.8 L281.7 153.3 L282.6 152.9 L283.4 152.4 L284.3 152.0 L285.2 151.6 L286.2 151.3 L287.1 151.0 L288.1 150.8 L289.1 150.8 L290.1 150.8 L291.0 151.0 L292.0 151.4 L292.9 151.8 L293.7 152.3 L294.6 152.8 L295.4 153.4 L296.1 154.1 L296.8 154.7 L297.5 155.4 L298.2 156.1 L298.9 156.9 L299.5 157.6 L300.2 158.4 L300.8 159.1 L301.4 159.9 L302.1 160.6 L302.7 161.4 L303.3 162.1 L303.9 162.9 L304.5 163.7 L305.1 164.5 L305.7 165.3 L306.3 166.1 L306.8 166.9 L307.4 167.7 L307.9 168.5 L308.5 169.3 L309.0 170.2 L309.6 171.0 L310.1 171.8 L310.6 172.7 L311.1 173.5 L311.6 174.4 L312.1 175.2 L312.5 176.1 L313.0 177.0 L313.4 177.8 L313.9 178.7 L314.3 179.6 L314.7 180.5 L315.1 181.4 L315.5 182.3 L315.9 183.2 L316.3 184.1 L316.7 185.0 L317.1 185.9 L317.5 186.8 L317.9 187.7 L318.3 188.6 L318.7 189.5 L319.1 190.4 L319.4 191.3 L319.8 192.2 L320.2 193.1 L320.6 194.0 L321.0 194.9 L321.4 195.8 L321.8 196.7 L322.2 197.6 L322.6 198.5 L323.0 199.4 L323.4 200.3 L323.8 201.2 L324.2 202.1 L324.6 203.0 L325.0 203.9 L325.4 204.8 L325.8 205.7 L326.2 206.7 L326.5 207.6 L326.9 208.5 L327.3 209.4 L327.7 210.3 L328.1 211.2 L328.4 212.1 L328.8 213.0 L329.2 213.9 L329.5 214.8 L329.9 215.8 L330.3 216.7 L330.6 217.6 L331.0 218.5 L331.3 219.4 L331.7 220.4 L332.0 221.3 L332.3 222.2 L332.7 223.1 L333.0 224.1 L333.3 225.0 L333.6 225.9 L334.0 226.8 L334.3 227.8 L334.6 228.7 L334.9 229.6 L335.2 230.6 L335.5 231.5 L335.8 232.5 L336.0 233.4 L336.3 234.4 L336.6 235.3" stroke-dasharray="4.3 1.7 1.3 1.65"/>
</g>

<!-- red dots -->
<g fill="#ff0000">
<circle cx="318.5" cy="35.5" r="2.8"/>
<circle cx="337.6" cy="35.4" r="2.8"/>
<circle cx="236.4" cy="144.8" r="2.8"/>
<circle cx="284.7" cy="145.1" r="2.8"/>
</g>

<!-- labels -->
<text transform="translate(157 41.2) rotate(0.02)" class="it">Past trend(0.78)</text>
<text transform="translate(351.7 18.8) rotate(0.02)" class="it">Recent trends(0.84)</text>
<text transform="translate(16.7 47.7) rotate(0.02)" class="nm">1.0</text>
<text transform="translate(23.6 254.1) rotate(0.02)" class="nm">0</text>
<text transform="translate(39.1 269.4) rotate(0.02)" class="nm">0</text>
<text transform="translate(387.3 268.8) rotate(0.02)" class="nm">1.0</text>
<text transform="translate(162.4 268.2) rotate(0.02)" class="ax"><tspan class="it">Panel Voltage</tspan> [p.u.]</text>
<text transform="translate(33.7 210.0) rotate(-89.98)" style="font-size:17.4px"><tspan class="it" style="font-size:17.25px">Panel Power</tspan> [p.u.]</text>

<!-- legend -->
<g fill="none" stroke="#0000ff" stroke-width="1.5">
<path d="M3.7 296.6 H25.6" stroke="#000"/>
<path d="M3.8 325.9 H27.1" stroke-dasharray="1.5 0.9"/>
<path d="M3.8 354 H26.1" stroke-dasharray="4.3 1.7 1.3 1.65"/>
<path d="M247.1 296.5 H270.2" stroke-width="0.7" stroke-dasharray="1.6 0.8" stroke="#3030ff"/>
<path d="M247.6 325.9 H269.8" stroke-dasharray="4 1.85"/>
</g>
<text transform="translate(30.9 302.2) rotate(0.02)">SP75(2012, Siemens)</text>
<text transform="translate(30.9 331.7) rotate(0.02)">QS380-72M5(2021, Qsolar)</text>
<text transform="translate(30.9 359.9) rotate(0.02)">GPNE-S108/M10H 410(2021, GPPV)</text>
<text transform="translate(273 302.2) rotate(0.02)">QN-410HT(2020, Q-Sun)</text>
<text transform="translate(273 331.7) rotate(0.02)">SS8-54HSB 400M(2022, SolarSpace)</text>
</svg>
</body></html>
